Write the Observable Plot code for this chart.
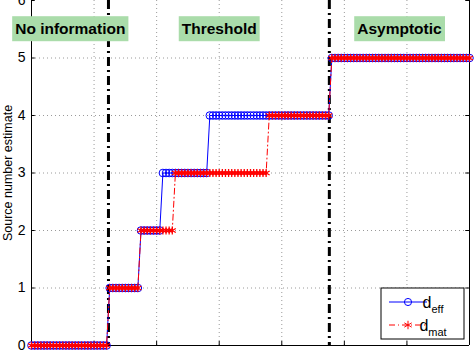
<!DOCTYPE html>
<html><head><meta charset="utf-8">
<script src="https://cdn.jsdelivr.net/npm/d3@7"></script>
<script src="https://cdn.jsdelivr.net/npm/@observablehq/plot@0.6"></script>
<style>body{margin:0;background:#fff;overflow:hidden}</style>
</head><body><div id="chart"></div>
<script>
// sample grid (x axis, arbitrary units: grid every 5)
const xSamples = d3.range(0, 35.001, 0.25);
// d_eff estimate per sample
const dEff = [
  0,0,0,0,0, 0,0,0,0,0, 0,0,0,0,0, 0,0,0,0,0, 0,0,0,0,0,
  1,1,1,1,1, 1,1,1,1,1,
  2,2,2,2,2, 2,2,
  3,3,3,3,3, 3,3,3,3,3, 3,3,3,3,3,
  4,4,4,4,4, 4,4,4,4,4, 4,4,4,4,4, 4,4,4,4,4, 4,4,4,4,4, 4,4,4,4,4, 4,4,4,4,4, 4,4,4,4,
  5,5,5,5,5, 5,5,5,5,5, 5,5,5,5,5, 5,5,5,5,5, 5,5,5,5,5, 5,5,5,5,5, 5,5,5,5,5, 5,5,5,5,5, 5,5,5,5,5
];
// d_mat estimate per sample
const dMat = [
  0,0,0,0,0, 0,0,0,0,0, 0,0,0,0,0, 0,0,0,0,0, 0,0,0,0,0,
  1,1,1,1,1, 1,1,1,1,1,
  2,2,2,2,2, 2,2,2,2,2, 2,
  3,3,3,3,3, 3,3,3,3,3, 3,3,3,3,3, 3,3,3,3,3, 3,3,3,3,3, 3,3,3,3,3,
  4,4,4,4,4, 4,4,4,4,4, 4,4,4,4,4, 4,4,4,4,4,
  5,5,5,5,5, 5,5,5,5,5, 5,5,5,5,5, 5,5,5,5,5, 5,5,5,5,5, 5,5,5,5,5, 5,5,5,5,5, 5,5,5,5,5, 5,5,5,5,5
];
const yTicks = [0, 1, 2, 3, 4, 5, 6];
const xGrid = [5, 10, 15, 20, 25, 30];
const regionBounds = [6.15, 23.8];
const regionNames = ["No information", "Threshold", "Asymptotic"];
const regionCenters = [3.1, 15.0, 29.4];
const regionLevel = 5.5;
const yLabel = "Source number estimate";
const seriesNames = ["eff", "mat"];

const effData = xSamples.map((x, i) => ({x, y: dEff[i]}));
const matData = xSamples.map((x, i) => ({x, y: dMat[i]}));
const regions = regionNames.map((name, i) => ({name, x: regionCenters[i], y: regionLevel}));

const font = "'Liberation Sans', Arial, Helvetica, sans-serif";
const dotted = {stroke: "#9a9a9a", strokeDasharray: "1,3", strokeWidth: 1};

const plot = Plot.plot({
  width: 474, height: 351,
  marginLeft: 31, marginRight: 5, marginTop: 0, marginBottom: 6,
  style: {fontFamily: font, fontSize: "14px", background: "#fff", overflow: "visible"},
  x: {domain: [0, 35], axis: null},
  y: {domain: [0, 6]},
  marks: [
    Plot.ruleY(yTicks.slice(1, -1), {...dotted}),
    Plot.ruleX(xGrid, {...dotted}),
    Plot.ruleY(yTicks, {x1: 0, x2: 0.3, stroke: "black"}),
    Plot.ruleY(yTicks, {x1: 34.7, x2: 35, stroke: "black"}),
    Plot.ruleX(xGrid, {y1: 0, y2: 0.07, stroke: "black"}),
    Plot.ruleX([0, 35], {stroke: "black"}),
    Plot.ruleY([0], {stroke: "black"}),
    Plot.axisY({ticks: yTicks, tickFormat: "d", tickSize: 0, tickPadding: 6, label: null, fontSize: 14}),
    Plot.text([yLabel], {frameAnchor: "left", textAnchor: "middle", dx: -24, rotate: -90, fontSize: 12.5, fill: "black"}),
    Plot.ruleX(regionBounds, {stroke: "black", strokeWidth: 3, strokeDasharray: "9,4,2,4"}),
    Plot.line(effData, {x: "x", y: "y", stroke: "#0000ff", strokeWidth: 1}),
    Plot.dot(effData, {x: "x", y: "y", r: 3.8, symbol: "circle", stroke: "#0000ff", fill: "none", strokeWidth: 1}),
    Plot.line(matData, {x: "x", y: "y", stroke: "#ff0000", strokeWidth: 1, strokeDasharray: "6,3,1,3"}),
    Plot.dot(matData, {x: "x", y: "y", r: 3.8, symbol: "asterisk", stroke: "#ff0000", strokeWidth: 1.3}),
    Plot.text(regions, {x: "x", y: "y", text: "name", fontSize: 15.5, fontWeight: "bold", fill: "black"})
  ]
});
document.getElementById("chart").appendChild(plot);

// green boxes behind region labels
const svg = d3.select(plot);
svg.selectAll("text").filter(function() { return regionNames.includes(this.textContent); })
  .each(function() {
    const b = this.getBBox();
    d3.select(this.parentNode).insert("rect", () => this)
      .attr("transform", this.getAttribute("transform"))
      .attr("x", b.x - 3).attr("y", b.y + b.height / 2 - 12.5)
      .attr("width", b.width + 6).attr("height", 25)
      .attr("fill", "#aadcaa");
  });

// legend
const lg = svg.append("g").attr("font-family", font);
lg.append("rect").attr("x", 381).attr("y", 288).attr("width", 83).attr("height", 51)
  .attr("fill", "white").attr("stroke", "black").attr("stroke-width", 1);
const rows = [
  {y: 302, color: "#0000ff", dash: null, sym: d3.symbolCircle, fill: "none", name: seriesNames[0]},
  {y: 325, color: "#ff0000", dash: "6,3,1,3", sym: d3.symbolAsterisk, fill: "none", name: seriesNames[1]}
];
rows.forEach(r => {
  lg.append("line").attr("x1", 389).attr("x2", 427).attr("y1", r.y).attr("y2", r.y)
    .attr("stroke", r.color).attr("stroke-dasharray", r.dash);
  lg.append("path").attr("d", d3.symbol(r.sym, r.sym === d3.symbolCircle ? 40 : 50)())
    .attr("transform", `translate(408,${r.y})`)
    .attr("fill", r.fill).attr("stroke", r.color).attr("stroke-width", 1);
  const t = lg.append("text").attr("x", 433).attr("y", r.y + 6).attr("font-size", 16);
  t.append("tspan").text("d");
  t.append("tspan").attr("dy", 5).attr("font-size", 11).text(r.name);
});
</script>
</body></html>
